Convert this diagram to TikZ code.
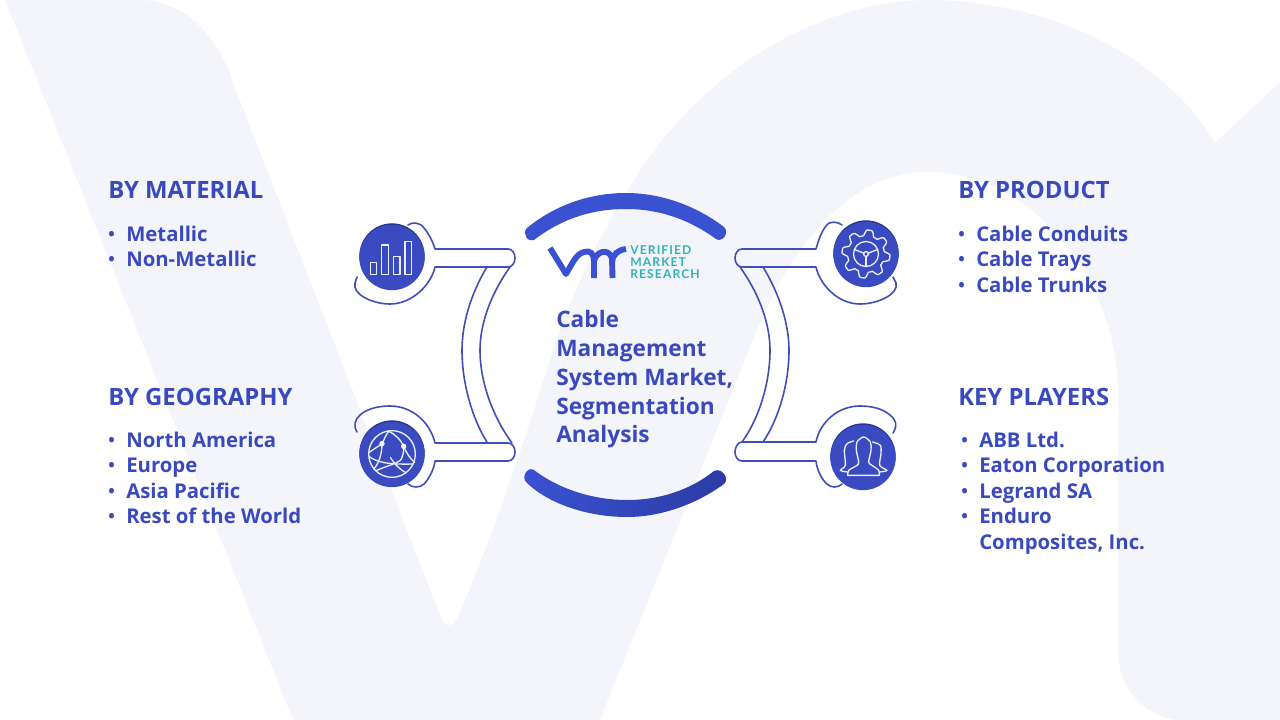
\documentclass[tikz,border=0pt]{standalone}
\usepackage{fontspec}
\setmainfont{Open Sans}[BoldFont={Open Sans Bold}]
\newfontfamily\logofont[LetterSpace=9]{Lato}
\definecolor{bgl}{HTML}{F4F5FB}
\definecolor{txt}{HTML}{3A49BE}
\definecolor{lin}{HTML}{3F4FB5}
\definecolor{blu}{HTML}{3A4BC2}
\definecolor{arc}{HTML}{3A52D2}
\definecolor{arcd}{HTML}{2C3BA4}
\definecolor{dk}{HTML}{28348F}
\definecolor{teal}{HTML}{2DB4B8}
\tikzset{
 head/.style={anchor=base west,inner sep=0,text=txt,font=\fontsize{17.9}{20}\selectfont\bfseries},
 item/.style={anchor=base west,inner sep=0,text=txt,font=\fontsize{15.25}{20}\selectfont\bfseries},
 bul/.style={anchor=base west,inner sep=0,text=txt,font=\fontsize{13}{20}\selectfont\bfseries},
 ttl/.style={anchor=base west,inner sep=0,text=txt,font=\fontsize{17}{20}\selectfont\bfseries},
 logot/.style={anchor=base west,inner sep=0,text=teal,font=\fontsize{9.1}{10}\selectfont\logofont\bfseries},
 outl/.style={draw=lin,line width=1.2pt,line join=round,line cap=round},
 ico/.style={draw=white!90!blu,line width=1pt,line join=round,line cap=round},
 ringc/.style={circle,fill=dk,inner sep=0,minimum size=49pt},
 disc/.style={circle,fill=blu,inner sep=0,minimum size=49pt},
}
\begin{document}
\begin{tikzpicture}[x=0.75pt,y=-0.75pt]
\useasboundingbox (0,0) rectangle (1280,720);
% background
\fill[bgl] (5,0) -- (140,0) .. controls (185,0) and (220,40) .. (232,80) -- (440,615)
  .. controls (444,628) and (452,628) .. (457,618)
  .. controls (490,545) and (525,440) .. (553,350)
  .. controls (575,285) and (600,235) .. (630,187)
  .. controls (680,100) and (790,3) .. (927,0)
  .. controls (1040,0) and (1160,50) .. (1215,143)
  -- (1280,82) -- (1280,720) -- (1175,720)
  .. controls (1145,715) and (1118,690) .. (1118,650)
  -- (1118,390) .. controls (1118,290) and (1040,172) .. (927,172)
  .. controls (850,172) and (790,245) .. (753,340)
  -- (600,720) -- (293,720) -- cycle;
% thick arcs
\fill[arc] (534,240) .. controls (529,243) and (521,234) .. (527,228)
  .. controls (555,205) and (590,193) .. (626,193)
  .. controls (660,193) and (695,205) .. (724,227)
  .. controls (730,233) and (722,243) .. (716,239)
  .. controls (690,220) and (660,209) .. (626,209)
  .. controls (590,209) and (560,220) .. (534,240) -- cycle;
\shade[left color=arc,right color=arcd] (534,470) .. controls (560,490) and (595,500) .. (627,500)
  .. controls (660,500) and (690,490) .. (714,471)
  .. controls (722,467) and (730,479) .. (724,484)
  .. controls (695,505) and (660,517) .. (627,517)
  .. controls (590,517) and (550,505) .. (527,483)
  .. controls (520,477) and (528,466) .. (534,470) -- cycle;
% connector outlines, left
\draw[outl] (408,225) .. controls (412,222) and (420,222) .. (424,228) .. controls (429,234) and (433,242) .. (435,249)
  -- (508,249) .. controls (512,249) and (515,253) .. (515,258) .. controls (515,263) and (512,267) .. (508,267)
  -- (435,267) .. controls (431,285) and (412,304) .. (390,304) .. controls (372,304) and (352,294) .. (355,283) -- (357,277);
\draw[outl] (487,267) .. controls (470,295) and (462,325) .. (462,350) .. controls (462,385) and (473,420) .. (487,442);
\draw[outl] (510,267) .. controls (490,295) and (480,325) .. (480,350) .. controls (480,385) and (495,420) .. (512,443);
\draw[outl] (357,432) .. controls (353,425) and (355,420) .. (360,415) .. controls (368,408) and (380,406) .. (390,406)
  .. controls (412,406) and (430,422) .. (435,443) -- (508,443) .. controls (512,443) and (515,447) .. (515,452)
  .. controls (515,457) and (512,461) .. (508,461) -- (435,461)
  .. controls (434,470) and (428,480) .. (424,484) .. controls (420,488) and (412,488) .. (408,484);
% connector outlines, right
\draw[outl] (842,225) .. controls (838,222) and (830,220) .. (826,226) .. controls (821,232) and (818,242) .. (816,249)
  -- (742,249) .. controls (738,249) and (735,253) .. (735,258) .. controls (735,263) and (738,267) .. (742,267)
  -- (816,267) .. controls (820,285) and (838,304) .. (860,304) .. controls (878,304) and (899,294) .. (896,283) -- (893,277);
\draw[outl] (740,267) .. controls (760,295) and (770,325) .. (770,350) .. controls (770,385) and (758,420) .. (742,442);
\draw[outl] (763,267) .. controls (780,295) and (789,325) .. (789,350) .. controls (789,385) and (778,420) .. (763,442);
\draw[outl] (893,433) .. controls (898,425) and (896,420) .. (890,415) .. controls (882,408) and (870,406) .. (860,406)
  .. controls (838,406) and (820,422) .. (816,442) -- (742,442) .. controls (738,442) and (735,447) .. (735,452)
  .. controls (735,457) and (738,461) .. (742,461) -- (816,461)
  .. controls (817,470) and (822,480) .. (827,484) .. controls (831,488) and (838,488) .. (842,484);
% icon discs
\node[ringc] at (392,256) {}; \node[disc] (c1) at (392,257.5) {};
\node[ringc] at (392,453) {}; \node[disc] (c2) at (392,454.5) {};
\node[ringc] at (866,253) {}; \node[disc] (c3) at (866,254.5) {};
\node[ringc] at (863,456) {}; \node[disc] (c4) at (863,457.5) {};
% bars icon
\draw[ico] (370.7,262.3) rectangle (376.7,274.3);
\draw[ico] (381.7,245) rectangle (388.7,274.3);
\draw[ico] (393.3,256.7) rectangle (400,274.3);
\draw[ico] (405,241.7) rectangle (411.7,274.3);
% globe icon
\begin{scope}[shift={(392,454)},x=0.25pt,y=-0.25pt]
\draw[ico] (0,0) circle[radius=70];
\draw[ico] (-10,-68) .. controls (10,-60) and (28,-40) .. (35,-23) .. controls (42,-5) and (55,15) .. (68,25);
\draw[ico] (-30,-31) .. controls (-30,0) and (-40,30) .. (-55,45);
\draw[ico] (-68,8) .. controls (-45,25) and (-10,32) .. (62,30);
\draw[ico] (-48,50) .. controls (-15,35) and (20,28) .. (28,15) .. controls (35,0) and (35,-10) .. (35,-23);
\draw[ico] (-10,-68) .. controls (-20,-55) and (-25,-40) .. (-30,-31) .. controls (-42,-22) and (-55,-15) .. (-68,-5);
\draw[ico] (-5,10) .. controls (10,35) and (30,50) .. (40,55);
\fill[white] (-30,-31) circle[radius=8] (35,-23) circle[radius=8];
\end{scope}
% gear icon
\begin{scope}[shift={(866,254)}]
\draw[ico,smooth,samples=161,domain=0:360] plot (\x:{21.2+2.8*max(-1,min(1,1.6*sin(8*\x+22)))}) -- cycle;
\draw[ico] (0,0) circle[radius=12.5];
\draw[ico] (0,0) circle[radius=2.4];
\draw[ico] (-11.5,-4.5) -- (-2.2,-0.8);
\draw[ico] (11.5,-4.5) -- (2.2,-0.8);
\draw[ico] (0,2.4) -- (0,12.5);
\end{scope}
% people icon
\begin{scope}[shift={(863,457)},x=0.25pt,y=-0.25pt]
\draw[ico] plot[smooth] coordinates {(-46,55) (-43,40) (-18,25) (-13,15) (-20,-20) (-18,-45) (2,-60) (22,-45) (24,-20) (17,15) (27,25) (47,40) (49,55)} -- cycle;
\draw[ico] plot[smooth] coordinates {(-46,45) (-68,40) (-53,25) (-56,-20) (-48,-40) (-28,-48)};
\draw[ico] plot[smooth] coordinates {(29,-45) (52,-35) (54,-10) (50,25) (72,40) (50,45)};
\end{scope}
% logo
\draw[arc,line width=4.4pt,line join=round] (550,248) -- (566,274) .. controls (572,264) and (576,254) .. (584,252) .. controls (590,250) and (594,253) .. (594,262) -- (594,278);
\draw[arc,line width=4.4pt] (594,262) .. controls (595,252) and (608,247) .. (612,258) -- (612.5,278);
\draw[arc,line width=4.4pt] (612,262) .. controls (613,254) and (618,250) .. (626,249);
\node[logot] (l1) at (630,254.5) {VERIFIED};
\node[logot] (l2) at (630,266.5) {MARKET};
\node[logot] (l3) at (630,278.5) {RESEARCH};
% title
\node[ttl] (t1) at (556,327) {Cable};
\node[ttl] (t2) at (556,356) {Management};
\node[ttl] (t3) at (556,385) {System Market,};
\node[ttl] (t4) at (556,414) {Segmentation};
\node[ttl] (t5) at (556,442) {Analysis};
% by material
\node[head] (h1) at (108,198.5) {BY MATERIAL};
\node[bul] at (108,240) {•}; \node[item] (a1) at (126,241.5) {Metallic};
\node[bul] at (108,265) {•}; \node[item] (a2) at (126,266.5) {Non-Metallic};
% by geography
\node[head] (h2) at (108,405.5) {BY GEOGRAPHY};
\node[bul] at (108,446) {•}; \node[item] (b1) at (126,447.5) {North America};
\node[bul] at (108,471) {•}; \node[item] (b2) at (126,472.5) {Europe};
\node[bul] at (108,497) {•}; \node[item] (b3) at (126,498.5) {Asia Pacific};
\node[bul] at (108,522) {•}; \node[item] (b4) at (126,523.5) {Rest of the World};
% by product
\node[head] (h3) at (958,198.5) {BY PRODUCT};
\node[bul] at (958,240) {•}; \node[item] (d1) at (976,241.5) {Cable Conduits};
\node[bul] at (958,265) {•}; \node[item] (d2) at (976,266.5) {Cable Trays};
\node[bul] at (958,291) {•}; \node[item] (d3) at (976,292.5) {Cable Trunks};
% key players
\node[head] (h4) at (958,405.5) {KEY PLAYERS};
\node[bul] at (961,446) {•}; \node[item] (e1) at (979,447.5) {ABB Ltd.};
\node[bul] at (961,471) {•}; \node[item] (e2) at (979,472.5) {Eaton Corporation};
\node[bul] at (961,497) {•}; \node[item] (e3) at (979,498.5) {Legrand SA};
\node[bul] at (961,522) {•}; \node[item] (e4) at (979,523.5) {Enduro};
\node[item] (e5) at (979,549.5) {Composites, Inc.};
\end{tikzpicture}
\end{document}
